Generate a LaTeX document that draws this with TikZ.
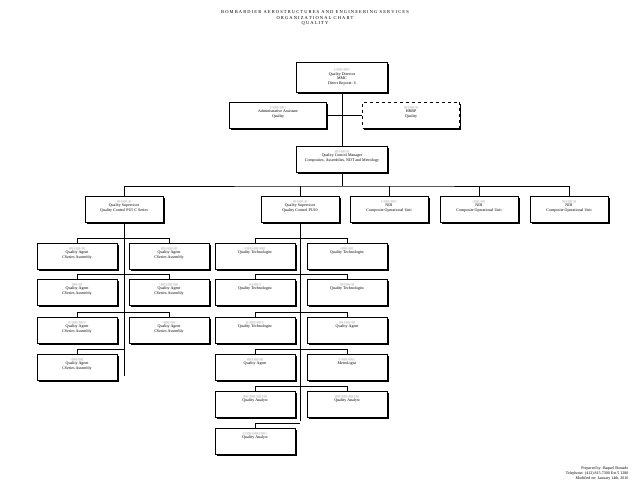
\documentclass[tikz,border=0pt]{standalone}
\usepackage{fontspec}
\setmainfont{Liberation Serif}
\usetikzlibrary{shadows,backgrounds}
\newcommand{\nm}[1]{{\fontsize{2.6}{3}\selectfont #1}\\}
\begin{document}
\begin{tikzpicture}[x=1pt,y=-1pt,
  bx/.style={draw,line width=0.6pt,fill=white,minimum height=26pt,minimum width=80pt,align=center,inner sep=1pt,
    font=\fontsize{4}{4.6}\selectfont,
    drop shadow={shadow xshift=1.6pt,shadow yshift=-1.6pt,fill=black,opacity=1}},
  dbx/.style={bx,dashed},
  ln/.style={line width=0.6pt}]
\useasboundingbox (0,0) rectangle (638,493);
\node[font=\fontsize{4.5}{5.5}\selectfont,align=center,anchor=north] (title) at (315,7)
 {B O M B A R D I E R\ \ A E R O S T R U C T U R E S\ \ A N D\ \ E N G I N E E R I N G\ \ S E R V I C E S\\
  O R G A N I Z A T I O N A L\ \ C H A R T\\ Q U A L I T Y};
\node[bx,minimum width=91pt,minimum height=30pt] (dir) at (342,77) {\nm{| | | | | | | | | | | | |}Quality Director\\MMC\\Direct Reports: 6};
\node[bx,minimum width=97pt] (adm) at (278,115) {\nm{| | | | | | | | | | | | |}Administrative Assistant\\Quality\\[2pt]};
\node[dbx,minimum width=97pt] (hr) at (411,115) {\nm{| | | | | | | | | | | |}HRBP\\Quality\\[2pt]};
\node[bx,minimum width=91pt] (qc) at (342,159) {\nm{| | | | | | | | | | | |}Quality Control Manager\\Composites, Assemblies, NDT and Metrology\\[2pt]};
\node[bx,minimum width=78pt] (s1) at (124,209) {\nm{| | | | | | | | | | | |}Quality Supervisor\\Quality Control PU5 C Series\\[2pt]};
\node[bx,minimum width=78pt] (s2) at (300,209) {\nm{| | | | | | | | | | | |}Quality Supervisor\\Quality Control PU10\\[2pt]};
\node[bx,minimum width=78pt] (n1) at (389,209) {\nm{| | | | | | | | | | | | |}NDI\\Composite Operational Unit\\[2pt]};
\node[bx,minimum width=78pt] (n2) at (479,209) {\nm{| | | | | | | | | | |}NDI\\Composite Operational Unit\\[2pt]};
\node[bx,minimum width=78pt] (n3) at (569,209) {\nm{| | | | | | | | | | | |}NDI\\Composite Operational Unit\\[2pt]};
% sup1 group
\node[bx] (a1) at (77,256) {\nm{| | | | | | | | | | | | | |}Quality Agent\\CSeries Assembly\\[2pt]};
\node[bx] (b1) at (169,256) {\nm{| | | | | | | | | | | | | |}Quality Agent\\CSeries Assembly\\[2pt]};
\node[bx] (a2) at (77,292) {\nm{| | | | | | | | |}Quality Agent\\CSeries Assembly\\[2pt]};
\node[bx] (b2) at (169,292) {\nm{| | | | | | | | | | | | | | | |}Quality Agent\\CSeries Assembly\\[2pt]};
\node[bx] (a3) at (77,330) {\nm{| | | | | | | | | | | | | | |}Quality Agent\\CSeries Assembly\\[2pt]};
\node[bx] (b3) at (169,330) {\nm{| | | | | | | | | | |}Quality Agent\\CSeries Assembly\\[2pt]};
\node[bx] (a4) at (77,367) {\nm{| | | | | | | | | | |}Quality Agent\\CSeries Assembly\\[2pt]};
% sup2 group
\node[bx] (c1) at (255,256) {\nm{| | | | | | | | | | | | | | | | | |}Quality Technologist\\[6pt]};
\node[bx] (d1) at (347,256) {\nm{| | | | | | | | | | |}Quality Technologist\\[6pt]};
\node[bx] (c2) at (255,292) {\nm{| | | | | | | | | |}Quality Technologist\\[6pt]};
\node[bx] (d2) at (347,292) {\nm{| | | | | | | | | | | |}Quality Technologist\\[6pt]};
\node[bx] (c3) at (255,330) {\nm{| | | | | | | | | | | | | | |}Quality Technologist\\[6pt]};
\node[bx] (d3) at (347,330) {\nm{| | | | | | | | | | | | | |}Quality Agent\\[6pt]};
\node[bx] (c4) at (255,367) {\nm{| | | | | | | | | | | | | |}Quality Agent\\[6pt]};
\node[bx] (d4) at (347,367) {\nm{| | | | | | | | | | | | |}Metrologist\\[6pt]};
\node[bx] (c5) at (255,404) {\nm{| | | | | | | | | | | | | | | | | | | | |}Quality Analyst\\[6pt]};
\node[bx] (d5) at (347,404) {\nm{| | | | | | | | | | | | | | | | | | | | |}Quality Analyst\\[6pt]};
\node[bx] (c6) at (255,441) {\nm{| | | | | | | | | | | | | | | | | | | |}Quality Analyst\\[6pt]};
\node[font=\fontsize{4}{5}\selectfont,align=right,anchor=north east] (foot) at (632,463)
 {Prepared by: Raquel Bostado\\Telephone: (412) 815-7300 Ext 5 1280\\Modified on: January 14th, 2016};
% connectors
\begin{scope}[on background layer]
\coordinate (bus) at (342,186);
\draw[ln] (dir.south) -- (qc.north);
\draw[ln] (adm.east) -- (hr.west);
\draw[ln] (qc.south) -- (bus);
\draw[ln] (s1.north) |- (bus) -| (n3.north);
\draw[ln] (s2.north) -- (s2.north|-bus);
\draw[ln] (n1.north) -- (n1.north|-bus);
\draw[ln] (n2.north) -- (n2.north|-bus);
\draw[ln] (s1.south) -- ++(0,154);
\foreach \l/\r in {a1/b1,a2/b2,a3/b3}{\draw[ln] (\l.north) -- ++(0,-4) -| (\r.north);}
\draw[ln] (a4.north) -- ++(0,-4) -- ++(47,0);
\draw[ln] (s2.south) -- ++(0,199);
\foreach \l/\r in {c1/d1,c2/d2,c3/d3,c4/d4,c5/d5}{\draw[ln] (\l.north) -- ++(0,-4) -| (\r.north);}
\draw[ln] (c6.north) -- ++(0,-4) -- ++(45,0);
\end{scope}
\end{tikzpicture}
\end{document}
